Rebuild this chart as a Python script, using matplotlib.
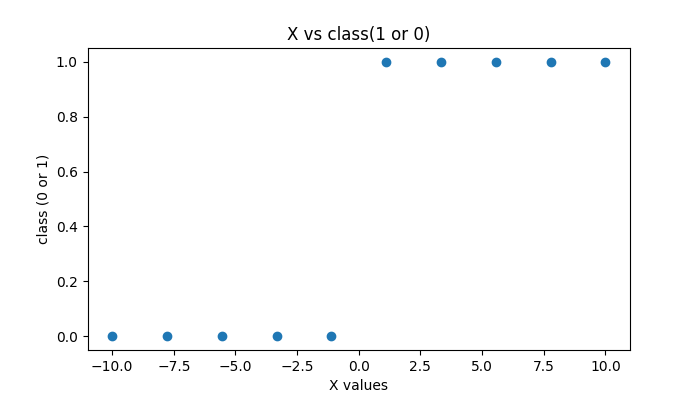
import matplotlib
matplotlib.use('Agg')
import matplotlib.pyplot as plt

x_values = [-10.0, -7.78, -5.56, -3.33, -1.11, 1.11, 3.33, 5.56, 7.78, 10.0]
classes = [0, 0, 0, 0, 0, 1, 1, 1, 1, 1]

fig = plt.figure(figsize=(7, 4), dpi=100)
plt.subplots_adjust(bottom=0.125)
plt.scatter(x_values, classes)
plt.xlabel('X values')
plt.ylabel('class (0 or 1)')
plt.title('X vs class(1 or 0)')
plt.savefig('out.png')
